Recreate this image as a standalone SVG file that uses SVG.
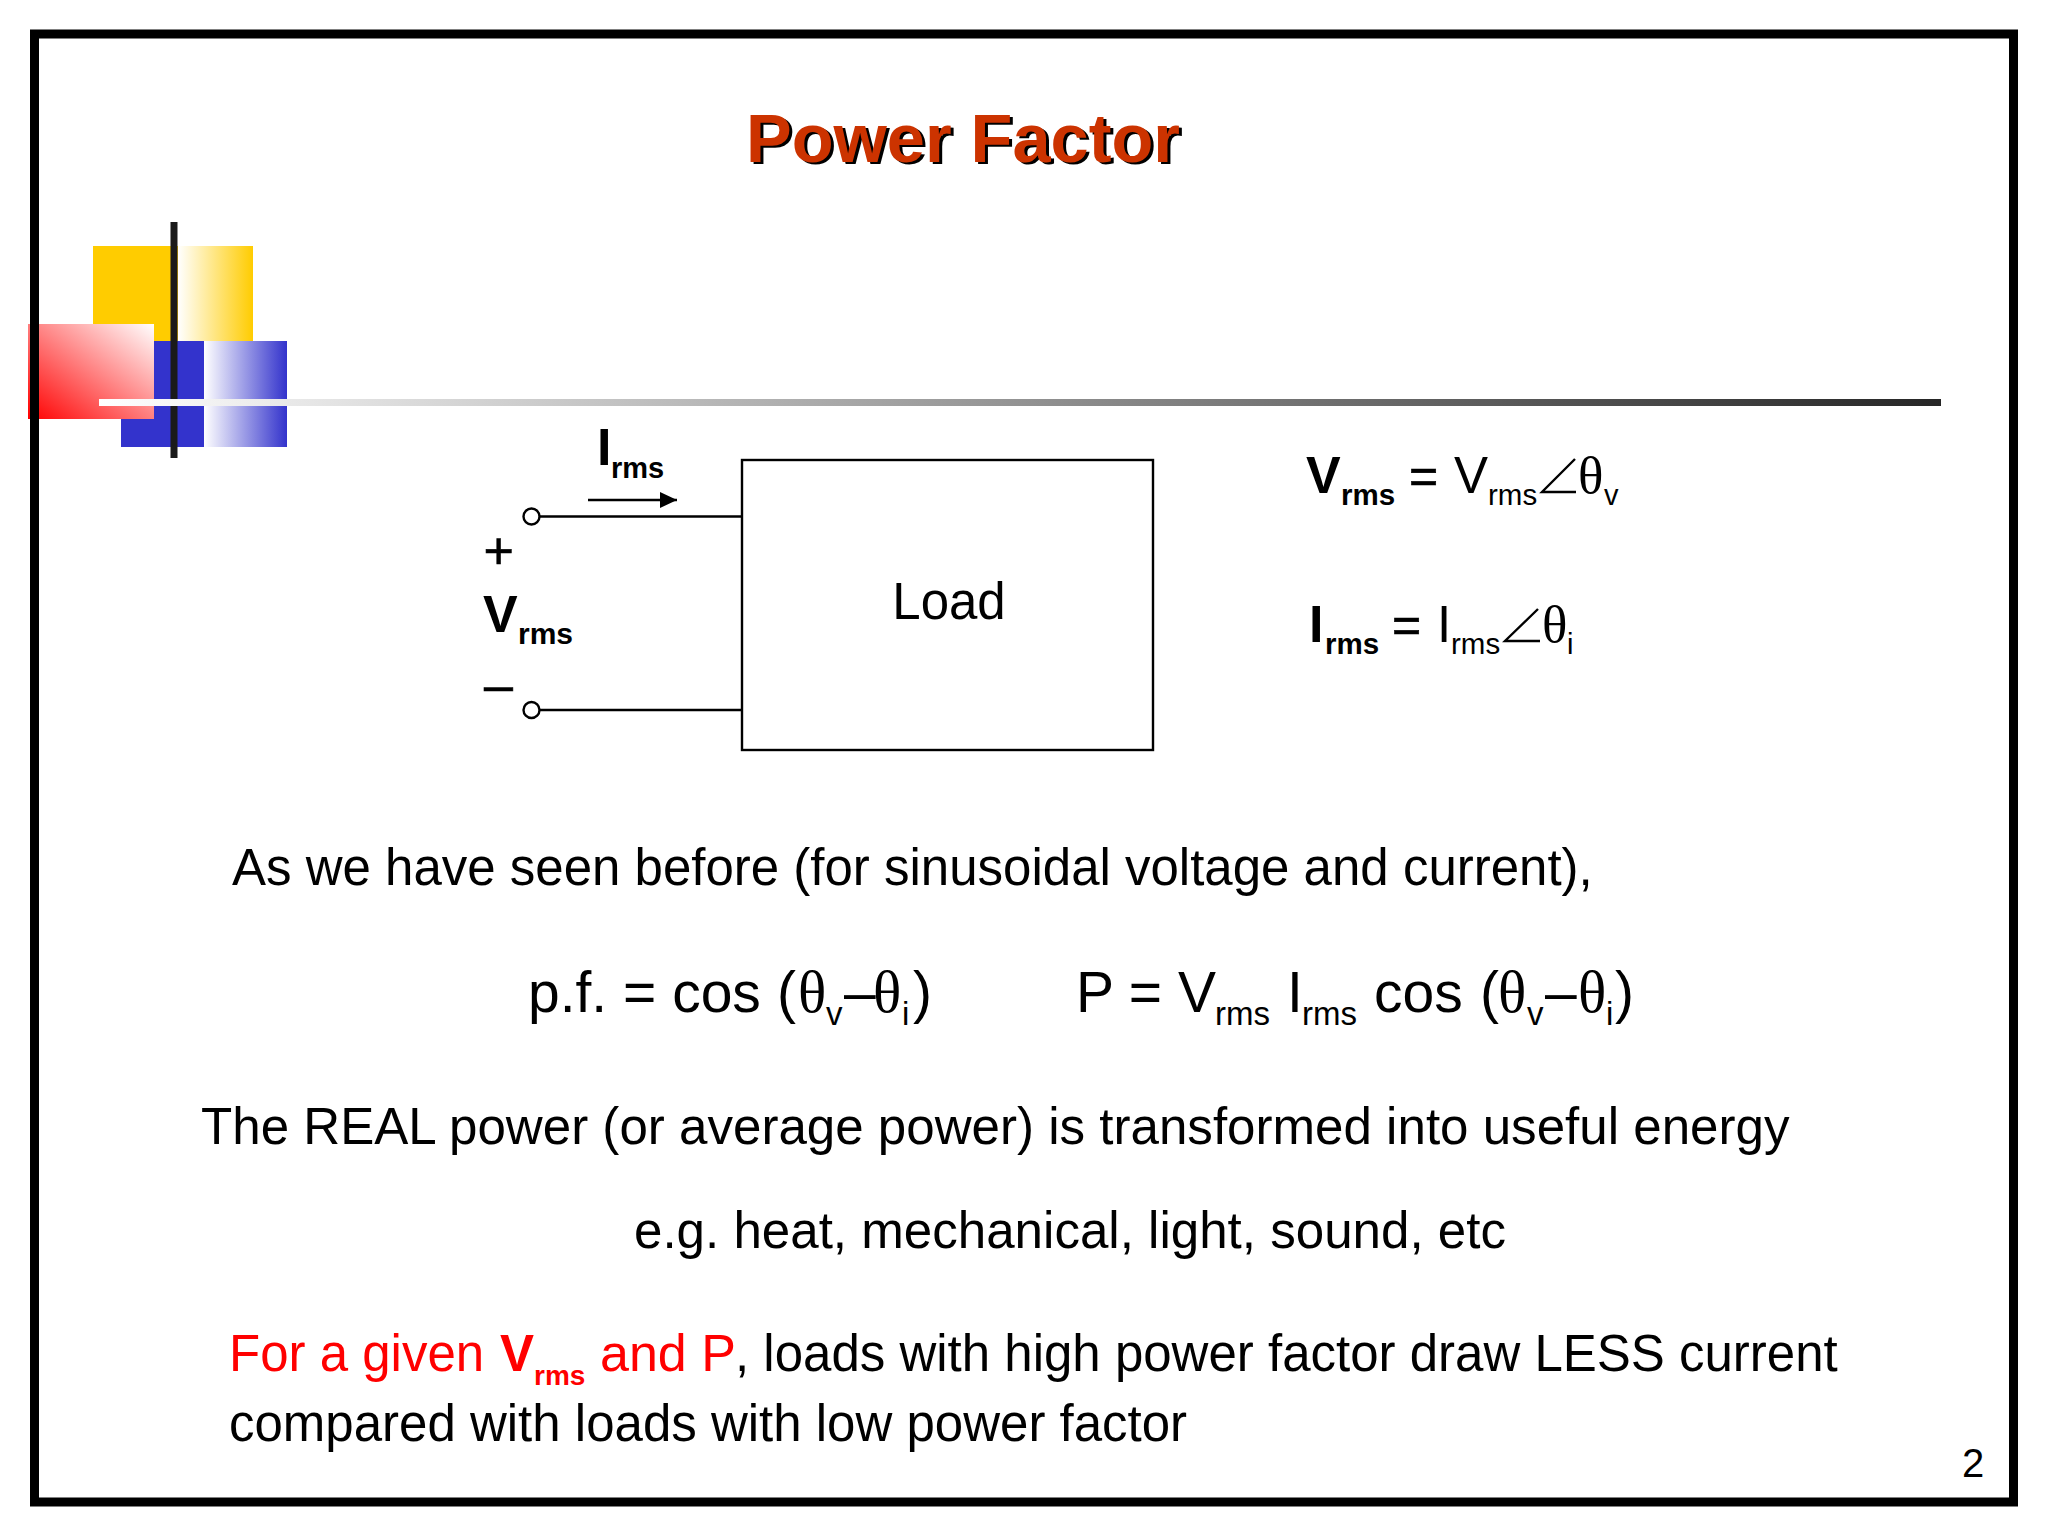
<svg xmlns="http://www.w3.org/2000/svg" width="2048" height="1536" viewBox="0 0 2048 1536">
<style>
text{font-family:"Liberation Sans",Arial,sans-serif;fill:#000;white-space:pre}
.b{font-weight:bold}
.body{font-size:51px}
.eq{font-size:57px}
.sub{font-size:33px}
.wire{stroke:#000;stroke-width:2.4;fill:none}
.sy{font-family:"Liberation Serif","DejaVu Serif",serif;font-size:59px}
.red{fill:#f00}
.hv{stroke:#000;stroke-width:0.600px}
</style>
<defs>
<linearGradient id="gy" x1="0" x2="1" y1="0" y2="0"><stop offset="0" stop-color="#fff"/><stop offset="1" stop-color="#ffcc00"/></linearGradient>
<linearGradient id="gb" x1="0" x2="1" y1="0" y2="0"><stop offset="0" stop-color="#fff"/><stop offset="1" stop-color="#3333cc"/></linearGradient>
<linearGradient id="gr" x1="0" x2="1" y1="1" y2="0"><stop offset="0" stop-color="#f00"/><stop offset="1" stop-color="#fff"/></linearGradient>
<linearGradient id="gl" x1="0" x2="1" y1="0" y2="0"><stop offset="0" stop-color="#fff"/><stop offset="1" stop-color="#262626"/></linearGradient>
<marker id="arr" markerUnits="userSpaceOnUse" markerWidth="18" markerHeight="18" refX="17" refY="8" orient="auto"><path d="M0 0L17 8L0 16Z" fill="#000"/></marker>
</defs>
<rect width="2048" height="1536" fill="#fff"/>
<g id="decor">
<rect x="93" y="246" width="85" height="95" fill="#ffcc00"/>
<rect x="178" y="246" width="75" height="95" fill="url(#gy)"/>
<rect x="121" y="341" width="83" height="106" fill="#3333cc"/>
<rect x="204" y="341" width="83" height="106" fill="url(#gb)"/>
<rect x="28" y="324" width="126" height="95" fill="url(#gr)"/>
<rect x="170.500" y="222" width="7" height="236" fill="#1a1a1a"/>
<rect x="99" y="399" width="1842" height="7" fill="url(#gl)"/>
</g>
<rect id="frame" x="34.500" y="34" width="1979" height="1468" fill="none" stroke="#000" stroke-width="9"/>
<g id="title"><text class="b" x="749" y="164" font-size="68.500" style="fill:#000">Power Factor</text><text class="b" x="746" y="161.500" font-size="68.500" style="fill:#cc3300">Power Factor</text></g>
<g id="connectors">
<line class="wire" x1="539" y1="516.500" x2="742" y2="516.500"/>
<line class="wire" x1="539" y1="710" x2="742" y2="710"/>
<line class="wire" x1="588" y1="500" x2="677" y2="500" marker-end="url(#arr)"/>
</g>
<g id="terminal-top"><circle class="wire" cx="531.500" cy="516.500" r="8" fill="#fff"/></g>
<g id="terminal-bottom"><circle class="wire" cx="531.500" cy="710" r="8" fill="#fff"/></g>
<g id="load"><rect class="wire" x="742" y="460" width="411" height="290"/><text x="949" y="619" font-size="51" text-anchor="middle">Load</text></g>
<g id="irms-label"><text class="b" x="597" y="465" font-size="52">I</text><text class="b" x="611" y="478" font-size="29">rms</text></g>
<g id="vrms-label">
<text class="hv" x="483.500" y="569" font-size="52">+</text>
<text class="b" x="483" y="632" font-size="52">V</text><text class="b" x="518" y="644" font-size="30">rms</text>
<text class="hv" x="484" y="701.500" font-size="52">–</text>
</g>
<g id="eq-v">
<text class="b" x="1306" y="493" font-size="52">V</text><text class="b" x="1341" y="505" font-size="29.500">rms</text>
<text class="hv" x="1409" y="493" font-size="50">=</text>
<text x="1454" y="493" font-size="51">V</text><text x="1488" y="505" font-size="29.500">rms</text>
<path class="wire" d="M1575 459L1542 492H1576" stroke-width="3"/>
<text class="sy" x="1578" y="493" style="font-size:53px">θ</text><text x="1604" y="505" font-size="29">v</text>
</g>
<g id="eq-i">
<text class="b" x="1309" y="642" font-size="52">I</text><text class="b" x="1325" y="654" font-size="29.500">rms</text>
<text class="hv" x="1392" y="642" font-size="50">=</text>
<text x="1437" y="642" font-size="51">I</text><text x="1451" y="654" font-size="29.500">rms</text>
<path class="wire" d="M1538 609L1505 641H1540" stroke-width="3"/>
<text class="sy" x="1542" y="642" style="font-size:53px">θ</text><text x="1567" y="654" font-size="29">i</text>
</g>
<g id="body">
<text class="body" x="232" y="885">As we have seen before (for sinusoidal voltage and current),</text>
<text class="eq" y="1012"><tspan x="528">p.f. = cos</tspan><tspan x="777">(</tspan><tspan class="sy" x="798">θ</tspan><tspan class="sub" x="826" y="1025">v</tspan><tspan x="844" y="1012">–</tspan><tspan class="sy" x="873">θ</tspan><tspan class="sub" x="902" y="1025">i</tspan><tspan x="913" y="1012">)</tspan></text>
<text class="eq" y="1012"><tspan x="1076">P =</tspan><tspan x="1178">V</tspan><tspan class="sub" x="1215" y="1025">rms</tspan><tspan x="1287" y="1012">I</tspan><tspan class="sub" x="1302" y="1025">rms</tspan><tspan x="1374" y="1012">cos</tspan><tspan x="1480">(</tspan><tspan class="sy" x="1498">θ</tspan><tspan class="sub" x="1527" y="1025">v</tspan><tspan x="1545" y="1012">–</tspan><tspan class="sy" x="1578">θ</tspan><tspan class="sub" x="1606" y="1025">i</tspan><tspan x="1615" y="1012">)</tspan></text>
<text class="body" x="201" y="1144" style="font-size:51.100px">The REAL power (or average power) is transformed into useful energy</text>
<text class="body" x="634" y="1248" style="font-size:51.100px">e.g. heat, mechanical, light, sound, etc</text>
<text class="body" x="229" y="1371"><tspan class="red">For a given</tspan><tspan class="red b" x="500">V</tspan><tspan class="red b" font-size="28" x="534" y="1385">rms</tspan><tspan class="red" x="600" y="1371" font-size="52">and P</tspan><tspan x="735">, loads with high power factor draw LESS current</tspan></text>
<text class="body" x="229" y="1441">compared with loads with low power factor</text>
<text x="1962" y="1477" font-size="40">2</text>
</g>
</svg>
